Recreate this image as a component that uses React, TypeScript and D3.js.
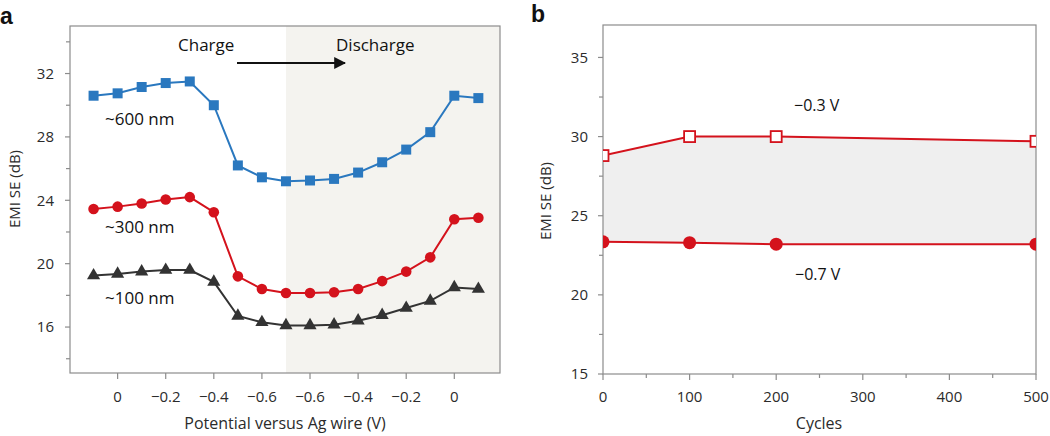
import React from "react";
import * as d3 from "d3";

// Panel a data (sequence of potentials during charge then discharge)
const potentialLabels = ["0.1", "0", "-0.1", "-0.2", "-0.3", "-0.4", "-0.5", "-0.6", "-0.7", "-0.6", "-0.5", "-0.4", "-0.3", "-0.2", "-0.1", "0", "0.1"];
const se600 = [30.6, 30.75, 31.15, 31.4, 31.5, 30.0, 26.2, 25.45, 25.2, 25.25, 25.35, 25.75, 26.4, 27.2, 28.3, 30.6, 30.45];
const se300 = [23.45, 23.6, 23.8, 24.05, 24.2, 23.25, 19.2, 18.4, 18.15, 18.15, 18.2, 18.4, 18.9, 19.5, 20.4, 22.8, 22.9];
const se100 = [19.25, 19.35, 19.5, 19.6, 19.6, 18.85, 16.7, 16.3, 16.1, 16.1, 16.15, 16.4, 16.75, 17.2, 17.65, 18.5, 18.4];
const aTickIdx = [1, 3, 5, 7, 9, 11, 13, 15];
const aTickLabels = ["0", "−0.2", "−0.4", "−0.6", "−0.6", "−0.4", "−0.2", "0"];
const aYTicks = [16, 20, 24, 28, 32];
const aYMinor = [14, 18, 22, 26, 30, 34];
const dischargeStartIdx = 8;

// Panel b data
const cycles = [0, 100, 200, 500];
const seHigh = [28.8, 30.0, 30.0, 29.7]; // -0.3 V
const seLow = [23.35, 23.3, 23.2, 23.2]; // -0.7 V
const bXTicks = [0, 100, 200, 300, 400, 500];
const bXMinor = [50, 150, 250, 350, 450];
const bYTicks = [15, 20, 25, 30, 35];
const bYMinor = [17.5, 22.5, 27.5, 32.5];

const FONT = "'Open Sans', 'Noto Sans', Arial, sans-serif";
const BLUE = "#2a78bf";
const RED = "#d4121c";
const DARK = "#333333";
const AXIS = "#8c8c8c";
const TXT = "#2b2b2b";

export default function App() {
  // Panel a geometry
  const aL = 70, aR = 500, aT = 26, aB = 373;
  const xa = d3.scaleLinear().domain([-0.98, 16.9]).range([aL, aR]);
  const ya = d3.scaleLinear().domain([13.1, 35.0]).range([aB, aT]);
  const idx = se600.map((_, i) => i);
  const lineA = (vals: number[]) =>
    d3.line<number>().x((_, i) => xa(i)).y((v) => ya(v))(vals) || "";

  // Panel b geometry
  const bL = 603, bR = 1036, bT = 25, bB = 374;
  const xb = d3.scaleLinear().domain([0, 500]).range([bL, bR]);
  const yb = d3.scaleLinear().domain([15, 37.05]).range([bB, bT]);
  const lineB = (vals: number[]) =>
    d3.line<number>().x((_, i) => xb(cycles[i])).y((v) => yb(v))(vals) || "";
  const areaB =
    d3
      .area<number>()
      .x((_, i) => xb(cycles[i]))
      .y0((_, i) => yb(seLow[i]))
      .y1((v) => yb(v))(seHigh) || "";

  const tri = d3.symbol().type(d3.symbolTriangle).size(75)() || "";

  return (
    <svg width={1050} height={436} style={{ position: "absolute", left: 0, top: 0, fontFamily: FONT }}>
      <defs>
        <clipPath id="clipB">
          <rect x={bL} y={bT} width={bR - bL} height={bB - bT} />
        </clipPath>
        <marker id="arrowHead" viewBox="0 0 10 10" refX="9" refY="5" markerWidth="6" markerHeight="6" orient="auto">
          <path d="M0,0 L10,5 L0,10 Z" fill="#111" />
        </marker>
      </defs>

      {/* ===== Panel a ===== */}
      <text x={0} y={24} fontSize={23} fontWeight="bold" fill="#111" fontFamily="'Liberation Sans', Arial, sans-serif">a</text>
      <rect x={xa(dischargeStartIdx)} y={aT} width={aR - xa(dischargeStartIdx)} height={aB - aT} fill="#f4f3ef" />
      <rect x={aL} y={aT} width={aR - aL} height={aB - aT} fill="none" stroke={AXIS} strokeWidth={1.2} />
      {aYTicks.map((t) => (
        <g key={"ay" + t}>
          <line x1={aL - 5} x2={aL} y1={ya(t)} y2={ya(t)} stroke={AXIS} strokeWidth={1.2} />
          <text x={aL - 16} y={ya(t)} dy="0.36em" textAnchor="end" fontSize={15} fill={TXT}>{t}</text>
        </g>
      ))}
      {aYMinor.map((t) => (
        <line key={"aym" + t} x1={aL - 4} x2={aL} y1={ya(t)} y2={ya(t)} stroke={AXIS} strokeWidth={1.2} />
      ))}
      {aTickIdx.map((t, k) => (
        <g key={"ax" + k}>
          <line x1={xa(t)} x2={xa(t)} y1={aB} y2={aB + 6} stroke={AXIS} strokeWidth={1.2} />
          <text x={xa(t)} y={aB + 29} textAnchor="middle" fontSize={15} fill={TXT}>{aTickLabels[k]}</text>
        </g>
      ))}
      <text x={285} y={429} textAnchor="middle" fontSize={16} fill={TXT}>Potential versus Ag wire (V)</text>
      <text transform={`translate(20,${189}) rotate(-90)`} textAnchor="middle" fontSize={15} fill={TXT}>EMI SE (dB)</text>

      <text x={178} y={51} fontSize={17} fill="#111">Charge</text>
      <text x={336} y={51} fontSize={17} fill="#111">Discharge</text>
      <line x1={237} x2={345} y1={63} y2={63} stroke="#111" strokeWidth={2} markerEnd="url(#arrowHead)" />

      {/* 600 nm */}
      <path d={lineA(se600)} fill="none" stroke={BLUE} strokeWidth={2} />
      {idx.map((i) => (
        <rect key={"b" + i} x={xa(i) - 5} y={ya(se600[i]) - 5} width={10} height={10} fill={BLUE} />
      ))}
      {/* 300 nm */}
      <path d={lineA(se300)} fill="none" stroke={RED} strokeWidth={2} />
      {idx.map((i) => (
        <circle key={"r" + i} cx={xa(i)} cy={ya(se300[i])} r={5.3} fill={RED} />
      ))}
      {/* 100 nm */}
      <path d={lineA(se100)} fill="none" stroke={DARK} strokeWidth={2} />
      {idx.map((i) => (
        <path key={"k" + i} d={tri} transform={`translate(${xa(i)},${ya(se100[i])})`} fill={DARK} />
      ))}

      <text x={105} y={125} fontSize={17} fill="#111">~600 nm</text>
      <text x={105} y={233} fontSize={17} fill="#111">~300 nm</text>
      <text x={105} y={304} fontSize={17} fill="#111">~100 nm</text>

      {/* ===== Panel b ===== */}
      <text x={531} y={22} fontSize={23} fontWeight="bold" fill="#111" fontFamily="'Liberation Sans', Arial, sans-serif">b</text>
      <path d={areaB} fill="#efefef" />
      <rect x={bL} y={bT} width={bR - bL} height={bB - bT} fill="none" stroke={AXIS} strokeWidth={1.2} />
      {bYTicks.map((t) => (
        <g key={"by" + t}>
          <line x1={bL - 5} x2={bL} y1={yb(t)} y2={yb(t)} stroke={AXIS} strokeWidth={1.2} />
          <text x={bL - 15} y={yb(t)} dy="0.36em" textAnchor="end" fontSize={15} fill={TXT}>{t}</text>
        </g>
      ))}
      {bYMinor.map((t) => (
        <line key={"bym" + t} x1={bL - 4} x2={bL} y1={yb(t)} y2={yb(t)} stroke={AXIS} strokeWidth={1.2} />
      ))}
      {bXTicks.map((t) => (
        <g key={"bx" + t}>
          <line x1={xb(t)} x2={xb(t)} y1={bB} y2={bB + 6} stroke={AXIS} strokeWidth={1.2} />
          <text x={xb(t)} y={bB + 28} textAnchor="middle" fontSize={15} fill={TXT}>{t}</text>
        </g>
      ))}
      {bXMinor.map((t) => (
        <line key={"bxm" + t} x1={xb(t)} x2={xb(t)} y1={bB} y2={bB + 4} stroke={AXIS} strokeWidth={1.2} />
      ))}
      <text x={819} y={429} textAnchor="middle" fontSize={16} fill={TXT}>Cycles</text>
      <text transform={`translate(551,${201}) rotate(-90)`} textAnchor="middle" fontSize={15} fill={TXT}>EMI SE (dB)</text>

      <g clipPath="url(#clipB)">
        <path d={lineB(seHigh)} fill="none" stroke={RED} strokeWidth={2} />
        {cycles.map((c, i) => (
          <rect key={"h" + c} x={xb(c) - 5.5} y={yb(seHigh[i]) - 5.5} width={11} height={11} fill="#fff" stroke={RED} strokeWidth={1.8} />
        ))}
        <path d={lineB(seLow)} fill="none" stroke={RED} strokeWidth={2} />
        {cycles.map((c, i) => (
          <circle key={"l" + c} cx={xb(c)} cy={yb(seLow[i])} r={6.5} fill={RED} />
        ))}
      </g>

      <text x={794} y={111} fontSize={16} fill="#111">−0.3 V</text>
      <text x={795} y={280} fontSize={16} fill="#111">−0.7 V</text>
    </svg>
  );
}
